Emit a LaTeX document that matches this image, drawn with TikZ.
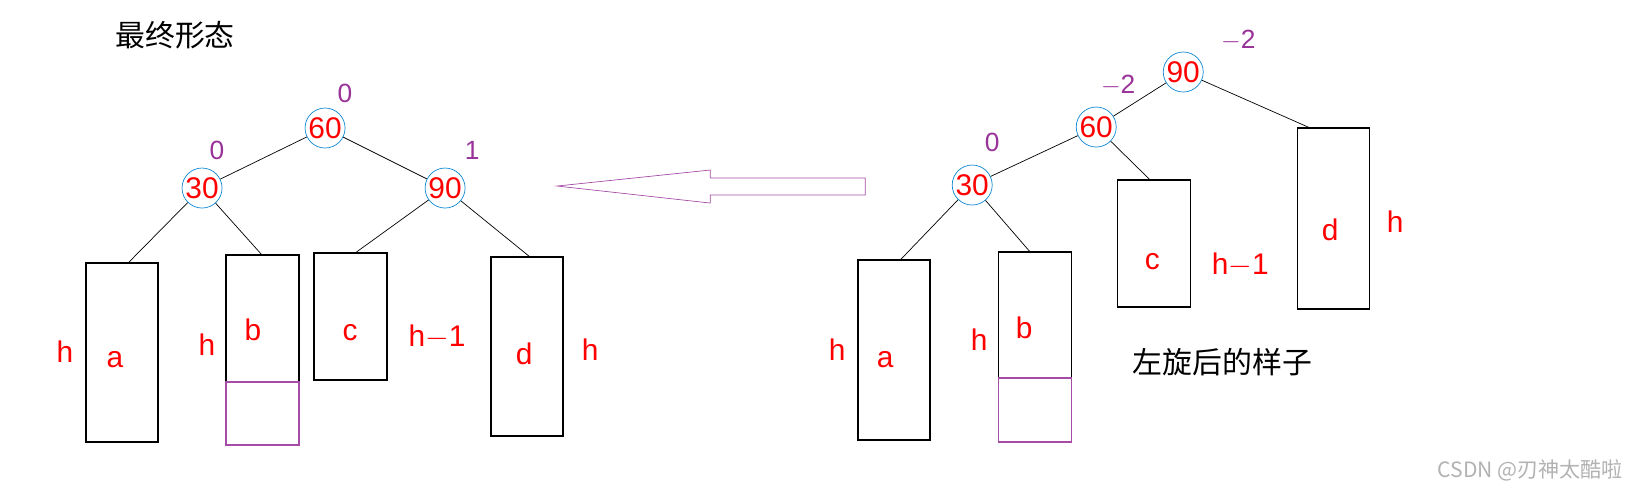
\documentclass[tikz,border=0pt]{standalone}
\usepackage{fontspec}
\setmainfont{Liberation Sans}
\newfontfamily\cjk{Noto Sans CJK SC}
\begin{document}
\begin{tikzpicture}[x=0.02cm,y=-0.02cm,
  nd/.style={circle,draw=cyan!70!blue,thin,minimum size=0.8cm,inner sep=0pt,text=red,font=\fontsize{17}{17}\selectfont},
  bx/.style={draw=black,thick},
  pb/.style={draw=violet!70,thick},
  lb/.style={text=red,font=\fontsize{17}{17}\selectfont},
  bf/.style={text=violet!80,font=\fontsize{15}{15}\selectfont},
  ln/.style={draw=black,thin}]
\path[use as bounding box] (0cm,0cm) rectangle (32.82cm,-9.96cm);
\node[font=\cjk\fontsize{17}{17}\selectfont] (t1) at (175,35) {最终形态};
% left tree
\node[nd] (L60) at (325,128) {60};
\node[nd] (L30) at (202,188) {30};
\node[nd] (L90) at (445,188) {90};
\node[bf] (l0a) at (345,93) {0};
\node[bf] (l0b) at (217,150) {0};
\node[bf] (l1) at (472,150) {1};
\draw[bx] (86,263) rectangle (158,442);
\draw[bx] (226,255) rectangle (299,382);
\draw[pb] (226,382) rectangle (299,445);
\draw[bx] (314,253) rectangle (387,380);
\draw[bx] (491,257) rectangle (563,436);
\coordinate (La) at (128,263); \coordinate (Lb) at (262,255);
\coordinate (Lc) at (355,253); \coordinate (Ld) at (530,257);
\draw[ln] (L60)--(L30); \draw[ln] (L60)--(L90);
\draw[ln] (L30)--(La); \draw[ln] (L30)--(Lb);
\draw[ln] (L90)--(Lc); \draw[ln] (L90)--(Ld);
\node[lb] (na) at (115,360) {a}; \node[lb] (ha) at (65,352) {h};
\node[lb] (nb) at (253,330) {b}; \node[lb] (hb) at (207,345) {h};
\node[lb] (nc) at (350,333) {c}; \node[lb] (hc) at (437,337) {h$-$1};
\node[lb] (ndd) at (524,354) {d}; \node[lb] (hd) at (590,350) {h};
% arrow
\draw[violet!70,thin] (865,178) -- (710,178) -- (710,170) -- (557,186) -- (710,203) -- (710,195) -- (865,195) -- cycle;
% right tree
\node[nd] (R90) at (1183,72) {90};
\node[nd] (R60) at (1096,127) {60};
\node[nd] (R30) at (972,185) {30};
\node[bf] (r2a) at (1238,40) {$-$2};
\node[bf] (r2b) at (1118,85) {$-$2};
\node[bf] (r0) at (992,142) {0};
\draw[bx] (858,260) rectangle (930,440);
\draw[bx] (998,252) rectangle (1071,378);
\draw[pb] (998,378) rectangle (1071,442);
\draw[bx] (1117,180) rectangle (1190,307);
\draw[bx] (1297,128) rectangle (1369,309);
\coordinate (Ra) at (900,260); \coordinate (Rb) at (1030,252);
\coordinate (Rc) at (1150,180); \coordinate (Rd) at (1310,128);
\draw[ln] (R90)--(R60); \draw[ln] (R90)--(Rd);
\draw[ln] (R60)--(R30); \draw[ln] (R60)--(Rc);
\draw[ln] (R30)--(Ra); \draw[ln] (R30)--(Rb);
\node[lb] (ra) at (885,360) {a}; \node[lb] (rha) at (837,350) {h};
\node[lb] (rb) at (1024,328) {b}; \node[lb] (rhb) at (979,340) {h};
\node[lb] (rc) at (1152,262) {c}; \node[lb] (rhc) at (1240,265) {h$-$1};
\node[lb] (rd) at (1330,230) {d}; \node[lb] (rhd) at (1395,222) {h};
\node[font=\cjk\fontsize{17}{17}\selectfont] (t2) at (1222,362) {左旋后的样子};
\node[text=gray!60,font=\cjk\fontsize{12}{12}\selectfont] (wm) at (1530,470) {CSDN @刃神太酷啦};
\end{tikzpicture}
\end{document}
